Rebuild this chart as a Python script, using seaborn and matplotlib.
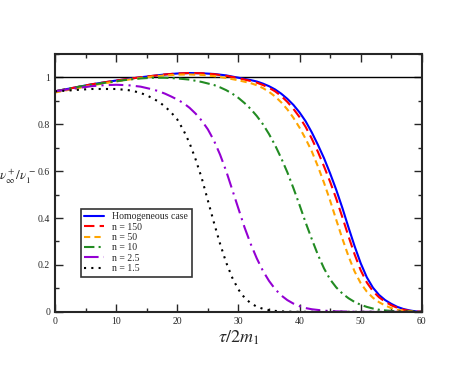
import numpy as np
import pandas as pd
import matplotlib.pyplot as plt
import seaborn as sns
from matplotlib.ticker import MultipleLocator

# Values
x_hom = [0, 2, 4, 6, 8, 10, 12, 14, 16, 18, 20, 22, 24, 26, 28, 29, 30, 31, 32, 33, 34, 35, 36, 37, 38,
         39, 40, 41, 42, 43, 44, 45, 46, 47, 48, 49, 50, 51, 52, 53, 54, 55, 56, 57, 58, 59, 60]
y_hom = [0.94, 0.95, 0.96, 0.97, 0.978, 0.986, 0.993, 1.0, 1.006, 1.012, 1.016, 1.018, 1.017, 1.014,
         1.008, 1.003, 0.998, 0.993, 0.988, 0.982, 0.973, 0.962, 0.948, 0.93, 0.908, 0.882, 0.85, 0.812,
         0.765, 0.712, 0.655, 0.59, 0.52, 0.443, 0.36, 0.28, 0.207, 0.147, 0.103, 0.072, 0.05, 0.034,
         0.021, 0.012, 0.006, 0.002, 0.0]

x_150 = [0, 2, 4, 6, 8, 10, 12, 14, 16, 18, 20, 22, 24, 26, 28, 29, 30, 31, 32, 33, 34, 35, 36, 37, 38,
         39, 40, 41, 42, 43, 44, 45, 46, 47, 48, 49, 50, 51, 52, 53, 54, 55, 56, 57, 58, 59, 60]
y_150 = [0.94, 0.95, 0.96, 0.97, 0.978, 0.986, 0.993, 1.0, 1.006, 1.012, 1.016, 1.018, 1.017, 1.013,
         1.006, 1.001, 0.996, 0.99, 0.984, 0.977, 0.967, 0.955, 0.94, 0.92, 0.895, 0.865, 0.83, 0.788,
         0.738, 0.682, 0.62, 0.554, 0.482, 0.403, 0.322, 0.245, 0.177, 0.125, 0.088, 0.062, 0.043, 0.028,
         0.017, 0.009, 0.004, 0.002, 0.0]

x_50 = [0, 2, 4, 6, 8, 10, 12, 14, 16, 18, 20, 22, 24, 26, 28, 29, 30, 31, 32, 33, 34, 35, 36, 37, 38,
        39, 40, 41, 42, 43, 44, 45, 46, 47, 48, 49, 50, 51, 52, 53, 54, 55, 56, 57, 58, 59, 60]
y_50 = [0.935, 0.945, 0.955, 0.965, 0.974, 0.982, 0.99, 0.997, 1.003, 1.008, 1.011, 1.012, 1.01, 1.005,
        0.997, 0.992, 0.987, 0.981, 0.975, 0.966, 0.954, 0.938, 0.918, 0.893, 0.863, 0.827, 0.785,
        0.737, 0.684, 0.62, 0.55, 0.474, 0.392, 0.312, 0.237, 0.172, 0.122, 0.086, 0.06, 0.041,
        0.027, 0.016, 0.009, 0.005, 0.002, 0.001, 0.0]

x_10 = [0, 2, 4, 6, 8, 10, 12, 14, 16, 18, 20, 22, 24, 26, 27, 28, 29, 30, 31, 32, 33, 34, 35, 36, 37,
        38, 39, 40, 41, 42, 43, 44, 45, 46, 47, 48, 49, 50, 51, 52, 53, 54, 55, 56, 58, 60]
y_10 = [0.94, 0.95, 0.96, 0.968, 0.976, 0.983, 0.99, 0.995, 0.998, 0.998, 0.995, 0.99, 0.98, 0.967,
        0.957, 0.945, 0.93, 0.912, 0.89, 0.865, 0.835, 0.8, 0.758, 0.71, 0.655, 0.595, 0.527, 0.455,
        0.38, 0.31, 0.243, 0.185, 0.138, 0.104, 0.078, 0.058, 0.042, 0.03, 0.021, 0.014, 0.009, 0.006,
        0.004, 0.002, 0.001, 0.0]

x_25 = [0, 2, 4, 6, 8, 10, 12, 14, 16, 17, 18, 19, 20, 21, 22, 23, 24, 25, 26, 27, 28, 29, 30, 31, 32,
        33, 34, 35, 36, 37, 38, 39, 40, 41, 42, 44, 46, 48, 50, 60]
y_25 = [0.94, 0.948, 0.955, 0.962, 0.966, 0.968, 0.966, 0.96, 0.948, 0.94, 0.93, 0.918, 0.905, 0.89,
        0.87, 0.845, 0.815, 0.778, 0.73, 0.67, 0.6, 0.52, 0.44, 0.36, 0.29, 0.228, 0.175, 0.132, 0.097,
        0.07, 0.05, 0.035, 0.024, 0.016, 0.011, 0.005, 0.002, 0.001, 0.0, 0.0]

x_15 = [0, 2, 4, 6, 8, 10, 12, 13, 14, 15, 16, 17, 18, 19, 20, 21, 22, 23, 24, 25, 26, 27, 28, 29, 30,
        31, 32, 33, 34, 35, 36, 37, 38, 40, 50, 60]
y_15 = [0.94, 0.943, 0.947, 0.95, 0.95, 0.95, 0.945, 0.94, 0.933, 0.923, 0.91, 0.895, 0.875, 0.85,
        0.82, 0.775, 0.72, 0.65, 0.57, 0.475, 0.38, 0.29, 0.21, 0.145, 0.095, 0.06, 0.037, 0.022,
        0.013, 0.007, 0.004, 0.002, 0.001, 0.0, 0.0, 0.0]

labels = ["Homogeneous case", "n = 150", "n = 50", "n = 10", "n = 2.5", "n = 1.5"]
colors = ["#0000ff", "#ff0000", "#ffa500", "#228b22", "#9400d3", "#000000"]

frames = []
for lab, xs, ys in zip(labels,
                       [x_hom, x_150, x_50, x_10, x_25, x_15],
                       [y_hom, y_150, y_50, y_10, y_25, y_15]):
    frames.append(pd.DataFrame({"tau": xs, "ratio": ys, "case": lab}))
df = pd.concat(frames, ignore_index=True)

sns.set_style("ticks")
plt.rcParams['font.family'] = ['Liberation Serif', 'DejaVu Serif']
plt.rcParams['mathtext.fontset'] = 'stix'

fig = plt.figure(figsize=(4.74, 3.66), dpi=100)
ax = fig.add_axes([0.116, 0.148, 0.774, 0.705])

ax.axhline(1.0, color="black", lw=1.0, zorder=1)

dash_styles = {
    "Homogeneous case": "",
    "n = 150": (5, 2.5),
    "n = 50": (3, 2),
    "n = 10": (5, 2, 1, 2),
    "n = 2.5": (7, 2.5, 1, 2.5),
    "n = 1.5": (1, 2.5),
}
sns.lineplot(data=df, x="tau", y="ratio", hue="case", style="case",
             palette=dict(zip(labels, colors)), dashes=dash_styles,
             hue_order=labels, style_order=labels, lw=1.5, ax=ax, sort=False)

ax.set_xlim(0, 60)
ax.set_ylim(0, 1.1)
ax.xaxis.set_major_locator(MultipleLocator(10))
ax.xaxis.set_minor_locator(MultipleLocator(5))
ax.yaxis.set_minor_locator(MultipleLocator(0.1))
ax.set_yticks([0, 0.2, 0.4, 0.6, 0.8, 1.0])
ax.set_yticklabels(["0", "0.2", "0.4", "0.6", "0.8", "1"])
ax.tick_params(which="both", direction="in", top=True, right=True, labelsize=7, width=1)
ax.tick_params(which="major", length=6)
ax.tick_params(which="minor", length=3)
for sp in ax.spines.values():
    sp.set_linewidth(1.5)

ax.set_xlabel(r"$\tau/2m_1$", fontsize=13, labelpad=2)
ax.set_ylabel("")
# y label is written horizontally, left of the "0.6" tick label
fig.text(0.076, 0.52, r"$\nu^+_\infty/\nu^-_1$", fontsize=9.5, ha="right", va="center")

leg = ax.legend(loc="lower left", bbox_to_anchor=(0.07, 0.136), fontsize=7,
                frameon=True, fancybox=False, edgecolor="black",
                handlelength=2.1, handletextpad=0.8, borderpad=0.35,
                labelspacing=0.15, borderaxespad=0)
leg.get_frame().set_linewidth(1.2)

fig.savefig("out.png", dpi=100)
